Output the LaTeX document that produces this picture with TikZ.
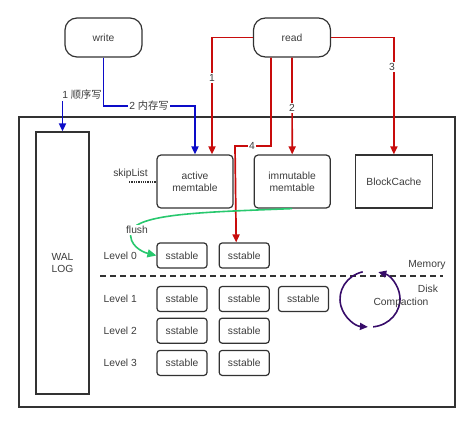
\documentclass[tikz,border=0pt]{standalone}
\usepackage{fontspec}
\setmainfont{Liberation Sans}
\newfontfamily\cjk{Noto Sans CJK SC}
\usetikzlibrary{arrows.meta,positioning}

\definecolor{txtgray}{RGB}{60,60,60}
\definecolor{boxgray}{RGB}{50,50,50}
\definecolor{readred}{RGB}{200,12,12}
\definecolor{writeblue}{RGB}{12,12,200}
\definecolor{flushgreen}{RGB}{40,200,110}
\definecolor{cmppurple}{RGB}{55,12,105}

\tikzstyle{client} = [rectangle, rounded corners=12pt, minimum width=77pt, minimum height=39pt, text centered, draw=boxgray, line width=1.2pt]
\tikzstyle{memtable} = [rectangle, rounded corners=4pt, minimum width=76pt, minimum height=53pt, align=center, draw=boxgray, line width=1.2pt]
\tikzstyle{cache} = [rectangle, minimum width=77pt, minimum height=53pt, text centered, draw=boxgray, line width=1.2pt]
\tikzstyle{sstable} = [rectangle, rounded corners=3pt, minimum width=50pt, minimum height=25pt, text centered, draw=boxgray, line width=1.2pt]
\tikzstyle{lbl} = [fill=white, inner sep=1pt]
\tikzstyle{wpath} = [line width=1.7pt, draw=writeblue, -{Triangle[length=8pt,width=7pt]}]
\tikzstyle{rpath} = [line width=1.7pt, draw=readred, -{Triangle[length=8pt,width=7pt]}]
\tikzstyle{flushpath} = [line width=1.6pt, draw=flushgreen, -{Triangle[length=9pt,width=8pt]}]
\tikzstyle{cmppath} = [line width=1.6pt, draw=cmppurple, -{Triangle[length=8pt,width=7pt]}]

\begin{document}
\begin{tikzpicture}[x=1pt, y=-1pt, font=\fontsize{10.3}{12.3}\selectfont, text=txtgray]
\useasboundingbox (0,0) rectangle (474,426);

% clients
\node (write) [client] at (103.5,37.5) {write};
\node (read) [client] at (292,37.5) {read};

% storage engine
\node (engine) [rectangle, draw=boxgray, line width=1.5pt, minimum width=436pt, minimum height=290pt] at (237,262) {};
\node (wal) [rectangle, draw=boxgray, line width=1.2pt, minimum width=53pt, minimum height=262pt, align=center] at (62.5,263) {WAL\\LOG};

% memory
\node (active) [memtable] at (195,181.5) {active\\memtable};
\node (immutable) [memtable, right=20pt of active] {immutable\\memtable};
\node (cache) [cache, right=24pt of immutable] {BlockCache};
\node (skip) at (130.5,174) {skipList};
\coordinate (skipend) at (129,182);
\draw [densely dotted, line width=1.3pt, boxgray] (skipend) -- (skipend -| active.west);

% levels
\node (l0a) [sstable] at (182,255.5) {sstable};
\node (l0b) [sstable, right=11pt of l0a] {sstable};
\node (l1a) [sstable] at (182,299) {sstable};
\node (l1b) [sstable, right=11pt of l1a] {sstable};
\node (l1c) [sstable, right=8pt of l1b] {sstable};
\node (l2a) [sstable, below=5.5pt of l1a] {sstable};
\node (l2b) [sstable, right=11pt of l2a] {sstable};
\node (l3a) [sstable, below=6pt of l2a] {sstable};
\node (l3b) [sstable, right=11pt of l3a] {sstable};

\node (lv0) [left=16pt of l0a] {Level 0};
\node (lv1) [left=16pt of l1a] {Level 1};
\node (lv2) [left=16pt of l2a] {Level 2};
\node (lv3) [left=16pt of l3a] {Level 3};

% memory / disk split
\coordinate (splitl) at (100,276);
\coordinate (splitr) at (443,276);
\draw [line width=1.4pt, boxgray, dash pattern=on 6pt off 4pt] (splitl) -- (splitr);
\node (mem) at (427,265) {Memory};
\node (disk) at (428,289) {Disk};

% compaction
\coordinate (cmp) at (370,299);
\draw [cmppath] (cmp) ++(84:30 and 28) arc[start angle=84, end angle=-74, x radius=30, y radius=28];
\draw [cmppath] (cmp) ++(-104:30 and 28) arc[start angle=-104, end angle=-266, x radius=30, y radius=28];
\node (cmplabel) at (401,303) {Compaction};

% write path
\coordinate (seq) at (62.5,95);
\coordinate (memw) at (103.5,106);
\draw [wpath] (write.south) |- (seq) -- (wal.north);
\draw [wpath] (write.south) -- (memw) -| (active.north);
\node [lbl] at (82,95) {1 {\cjk 顺序写}};
\node [lbl] at (149,106) {2 {\cjk 内存写}};

% read path
\coordinate (r4) at (235,146);
\draw [rpath] (read.west) -| ([xshift=17pt]active.north);
\draw [rpath] (read.south) -- (immutable.north);
\draw [rpath] (read.east) -| (cache.north);
\draw [rpath] ([xshift=-21pt]read.south) |- (r4) -- ([xshift=-8pt]l0b.north);
\node [lbl] at (212,78) {1};
\node [lbl] at (292,108) {2};
\node [lbl] at (392,67) {3};
\node [lbl] at (252,146) {4};

% flush
\draw [flushpath] (immutable.south) .. controls (210,212) and (140,213) .. (131,231) .. controls (128,245) and (142,252) .. (l0a.west);
\node [lbl] at (137,230) {flush};

\end{tikzpicture}
\end{document}
